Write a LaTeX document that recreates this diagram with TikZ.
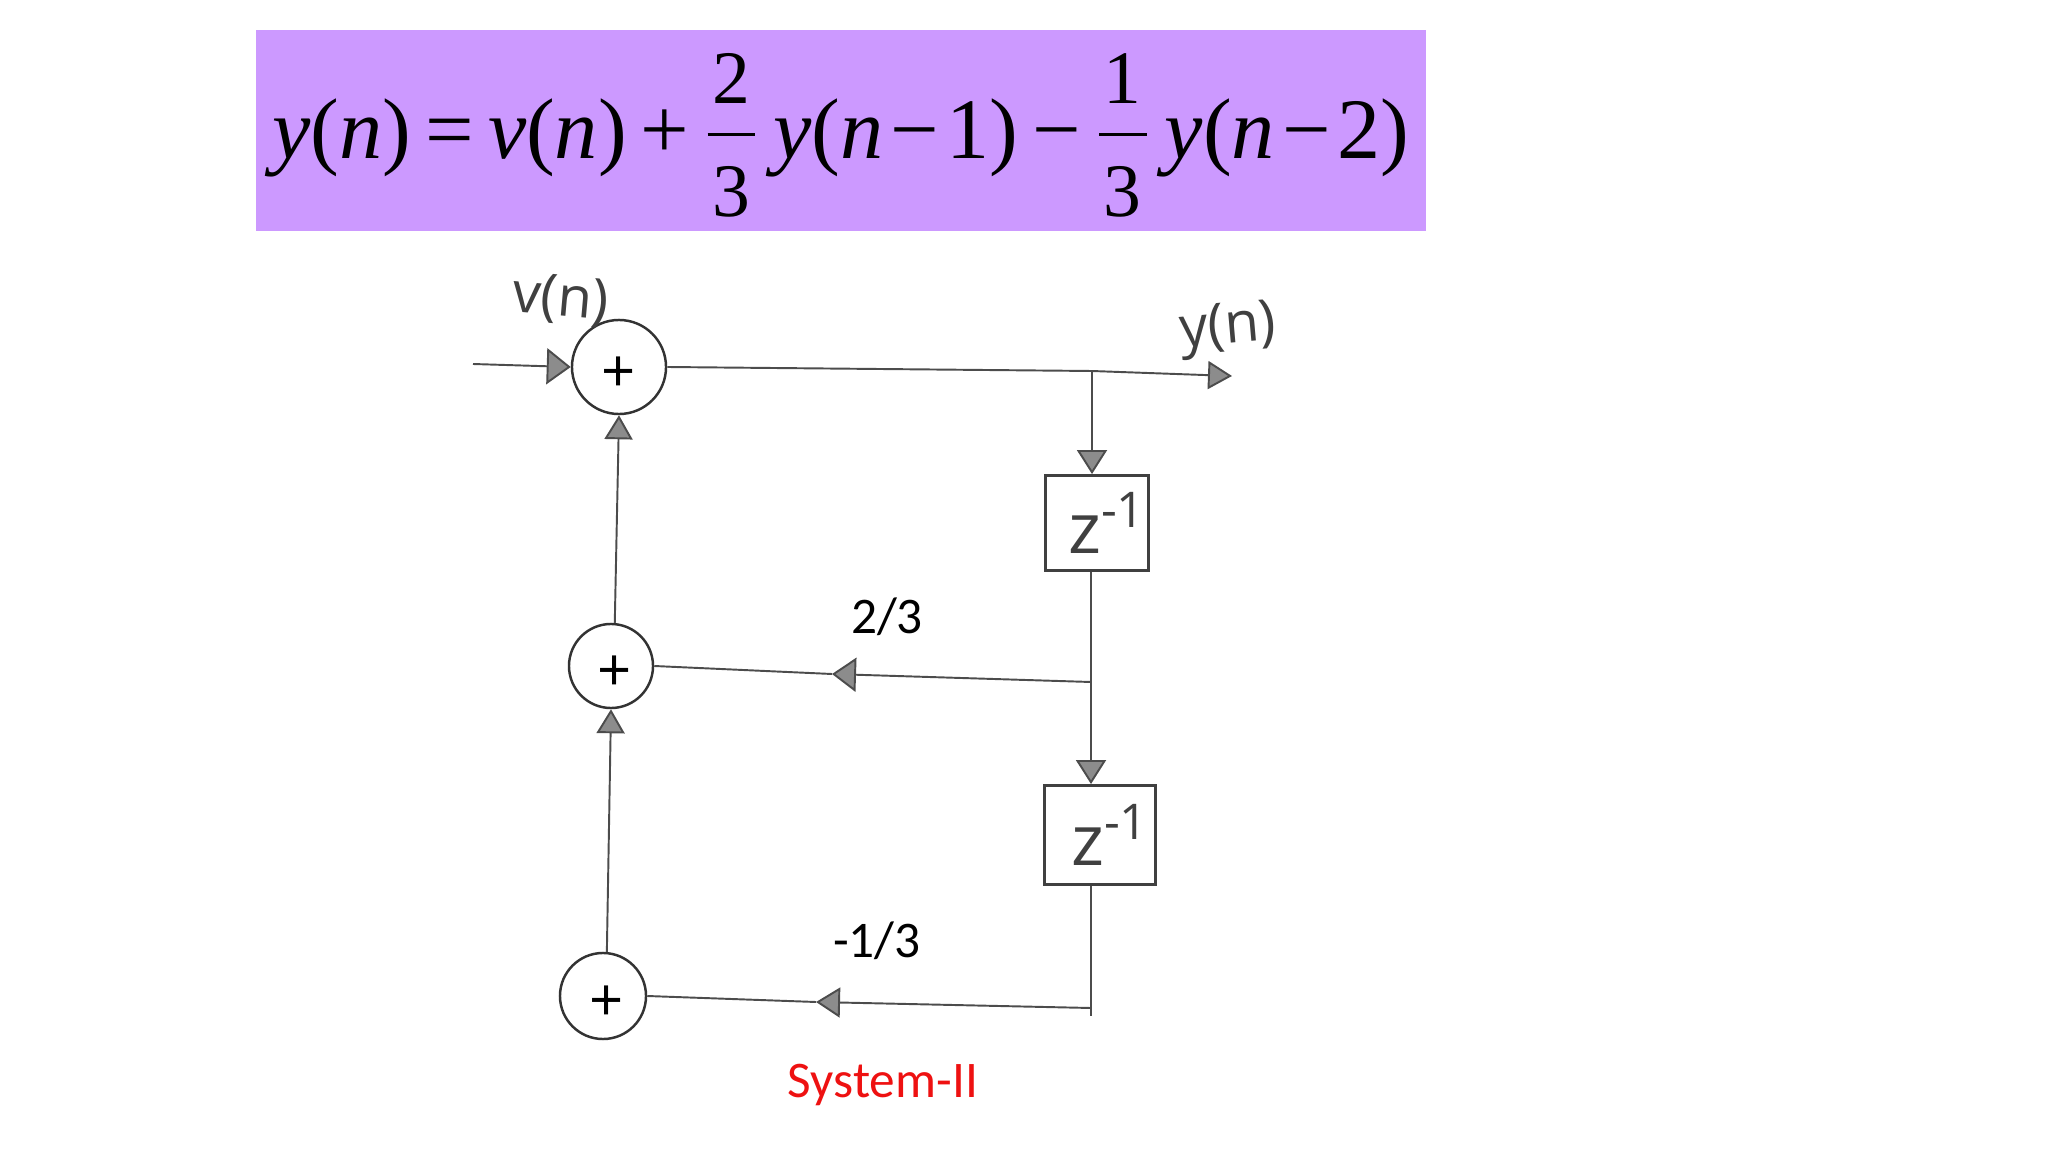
\documentclass[tikz,border=0pt]{standalone}
\usepackage{amsmath}
\usepackage{fontspec}
\setmainfont{Liberation Serif}
\newfontfamily\labelfont{Carlito}
\newfontfamily\handfont{Open Sans}
\usetikzlibrary{arrows.meta}
\definecolor{bandpurple}{HTML}{CC99FF}
\definecolor{sysred}{HTML}{EE1111}
\newcommand{\vy}{\textit{y}}
\newcommand{\vn}{\textit{n}}
\newcommand{\gap}{\kern4pt}
\newcommand{\frc}[2]{\raisebox{0.7pt}{$\dfrac{\kern1.4pt\raisebox{-1.8pt}[14pt][0pt]{\fontsize{21.5}{23}\selectfont#1}\kern1.4pt}{\rule{0pt}{18.8pt}\kern1.4pt\mbox{\fontsize{21.5}{23}\selectfont#2}\kern1.4pt}$}}
\tikzset{
  sumnode/.style={circle,draw=black!80,line width=0.7pt,inner sep=0pt,minimum size=#1,text height=0.5cm,text depth=0pt,font=\handfont\fontsize{17}{17}\selectfont},
  delaybox/.style={rectangle,draw=black!75,line width=0.8pt,inner sep=0pt,text=black!75,font=\handfont\fontsize{20}{20}\selectfont},
  wire/.style={draw=black!70,line width=0.55pt},
  arrowwire/.style={wire,-{Triangle[width=#1,length=0.24cm,fill=black!45]}},
  gainlabel/.style={font=\labelfont\fontsize{14.6}{15}\selectfont},
  handlabel/.style={font=\handfont\fontsize{16}{16}\selectfont,text=black!75}
}
\begin{document}
\begin{tikzpicture}[x=0.01cm,y=-0.01cm]
\useasboundingbox (0,0) rectangle (2048,1152);
% equation band
\fill[bandpurple] (256,30) rectangle (1426,231);
\node[font=\fontsize{24.5}{25}\selectfont,inner sep=0pt,anchor=base] (eqn) at (841,159) {\vy(\vn)\gap=\gap\textit{v}(\vn)\gap+\gap\frc{2}{3}\gap\vy(\vn\kern2pt−\kern2pt1)\gap−\gap\frc{1}{3}\gap\vy(\vn\kern2pt−\kern2pt2)};
% adders
\node[sumnode=0.94cm] (sumA) at (619,367) {+};
\node[sumnode=0.84cm] (sumB) at (611,666) {\kern2.2pt+};
\node[sumnode=0.86cm] (sumC) at (603,996) {\kern2.2pt+};
% delays
\node[delaybox,minimum width=1.03cm,minimum height=0.95cm] (delayA) at (1097,523) {\kern6pt z$^{\text{-1}}$};
\node[delaybox,minimum width=1.11cm,minimum height=0.99cm] (delayB) at (1100,835) {\kern6pt z$^{\text{-1}}$};
% junctions and free ends
\coordinate (vin) at (473,364);
\coordinate (yout) at (1232,376);
\coordinate (jtop) at (1092,371);
\coordinate (jmid) at (1091,682);
\coordinate (jbot) at (1091,1008);
\coordinate (jend) at (1091,1016);
\coordinate (tipB) at (832,674);
\coordinate (tipC) at (816,1002);
% wires
\draw[arrowwire=0.36cm] (vin) -- (sumA.west);
\draw[wire] (sumA.east) -- (jtop);
\draw[arrowwire=0.28cm] (jtop) -- (yout);
\draw[arrowwire=0.3cm] (jtop) -- (delayA.north-|jtop);
\draw[wire] (delayA.south-|jmid) -- (jmid);
\draw[arrowwire=0.3cm] (jmid) -- (delayB.north-|jmid);
\draw[wire] (delayB.south-|jbot) -- (jend);
\draw[arrowwire=0.34cm] (jmid) -- (tipB);
\draw[wire] (tipB) -- (sumB.east);
\draw[arrowwire=0.3cm] (jbot) -- (tipC);
\draw[wire] (tipC) -- (sumC.east);
\draw[arrowwire=0.28cm] (sumB.85) -- (sumA.south);
\draw[arrowwire=0.28cm] (sumC.85) -- (sumB.south);
% labels
\node[handlabel,rotate=-5] (vlabel) at (561,300) {v(n)};
\node[handlabel,rotate=5] (ylabel) at (1228,330) {y(n)};
\node[gainlabel] (gainB) at (887,617) {2/3};
\node[gainlabel] (gainC) at (877,941) {-1/3};
\node[gainlabel,text=sysred] (sysname) at (883,1085) {System-II};
\end{tikzpicture}
\end{document}
